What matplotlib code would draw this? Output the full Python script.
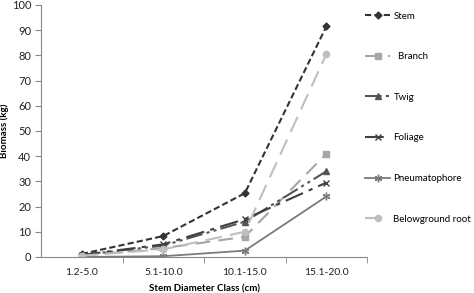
import matplotlib
matplotlib.use("Agg")
import matplotlib.pyplot as plt

plt.rcParams['font.family'] = ['Lato', 'DejaVu Sans']

categories = ["1.2-5.0", "5.1-10.0", "10.1-15.0", "15.1-20.0"]
stem = [1.2, 8.3, 25.3, 91.5]
branch = [0.5, 3.5, 8.0, 41.0]
twig = [0.8, 4.5, 14.0, 34.0]
foliage = [0.8, 5.0, 15.0, 29.5]
pneumatophore = [0.0, 0.3, 2.5, 24.0]
belowground = [0.5, 3.0, 10.0, 80.5]
labels = ["Stem", "  Branch", "Twig", "Foliage", "Pneumatophore", "Belowground root"]

fig = plt.figure(figsize=(4.74, 2.93), dpi=100)
ax = fig.add_axes([0.0865, 0.123, 0.688, 0.860])
x = list(range(len(categories)))

styles = [
    (stem, dict(color="#333333", linestyle=(0, (3, 1.5)), marker="D", markersize=3.5, lw=1.5)),
    (branch, dict(color="#a6a6a6", linestyle=(0, (7, 4)), marker="s", markersize=4.5, lw=1.5)),
    (twig, dict(color="#555555", linestyle=(0, (8, 2, 1.5, 2, 1.5, 2)), marker="^", markersize=4.5, lw=1.5)),
    (foliage, dict(color="#404040", linestyle=(0, (9, 3, 2, 3)), marker="x", markersize=5, lw=1.5, mew=1)),
    (pneumatophore, dict(color="#7a7a7a", linestyle="-", marker=(6, 2, 0), markersize=5.5, lw=1.3, mew=1)),
    (belowground, dict(color="#bfbfbf", linestyle=(0, (8, 4)), marker="o", markersize=4.5, lw=1.5)),
]
handles = []
for (vals, st), lab in zip(styles, labels):
    h, = ax.plot(x, vals, label=lab, **st)
    handles.append(h)

ax.set_xlim(-0.5, 3.5)
ax.set_ylim(0, 100)
ax.set_yticks(range(0, 101, 10))
ax.set_xticks(x)
ax.set_xticklabels(categories)
ax.set_xticks([0.5, 1.5, 2.5, 3.5], minor=True)
ax.tick_params(axis="x", which="major", length=0, labelsize=7.5, pad=8, colors="#222222")
ax.tick_params(axis="x", which="minor", length=4, color="#888888")
ax.tick_params(axis="y", length=4, labelsize=8, pad=3, color="#888888", labelcolor="#222222")
for s in ["top", "right"]:
    ax.spines[s].set_visible(False)
for s in ["left", "bottom"]:
    ax.spines[s].set_color("#888888")

ax.set_ylabel("Biomass (kg)", fontsize=7, fontweight="bold", labelpad=2)
ax.set_xlabel("Stem Diameter Class (cm)", fontsize=7, fontweight="bold", labelpad=5)

fig.legend(handles=handles, labels=labels, loc="upper left", bbox_to_anchor=(0.752, 0.99),
           frameon=False, fontsize=7, labelspacing=3.25, handlelength=2.6, handletextpad=0.3)

fig.savefig("out.png", dpi=100)
